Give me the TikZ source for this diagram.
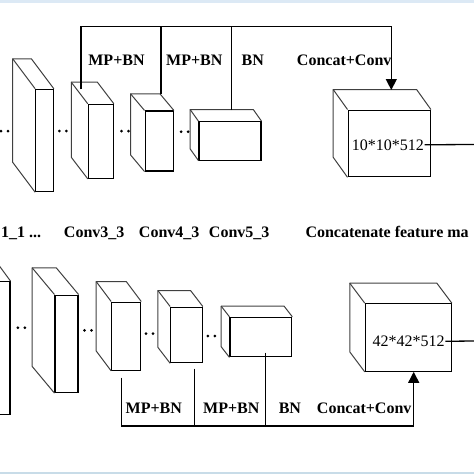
\documentclass[tikz,border=0pt]{standalone}
\usepackage{fontspec}
\setmainfont{Liberation Serif}
\usetikzlibrary{calc,arrows.meta}

\tikzset{
  face/.style={draw,line width=1.1pt,inner sep=0pt,fill=white},
  back/.style={line width=1pt,draw=black!75,line join=round},
  link/.style={line width=1.3pt},
  lab/.style={font=\fontsize{16}{19}\selectfont\bfseries,inner sep=0pt,anchor=base},
  size/.style={font=\fontsize{16}{19}\selectfont,inner sep=0.5pt,anchor=base},
  tip/.style={-{Triangle[width=11pt,length=11pt]}}
}
\definecolor{bandtop}{RGB}{220,233,245}
\definecolor{bandbot}{RGB}{200,220,232}

% back edges of a feature map: node, dx, dy
\newcommand{\fmapback}[3]{%
  \draw[back] (#1.south west) -- ++(#2,#3) -- ($(#1.north west)+(#2,#3)$)
    -- ($(#1.north east)+(#2,#3)$) -- (#1.north east);
  \draw[back] (#1.north west) -- ++(#2,#3);}

\begin{document}
\begin{tikzpicture}[x=1pt,y=-1pt]
  \useasboundingbox (0,0) rectangle (474,474);
  \clip (0,0) rectangle (474,474);
  \fill[bandtop] (0,0) rectangle (474,2.5);
  \fill[bandbot] (0,471.5) rectangle (474,474);

  % upper branch
  \node[face,minimum width=17.6,minimum height=102.4] (a1) at (44.5,140.5) {};
  \node[face,minimum width=25,minimum height=74] (a2) at (100.8,141.3) {};
  \node[face,minimum width=28.3,minimum height=60] (a3) at (159.2,141) {};
  \node[face,minimum width=62,minimum height=38.3] (a4) at (230,140.9) {};
  \node[face,minimum width=82.3,minimum height=66.7] (acat) at (389.2,143.4) {};
  \fmapback{a1}{-22.5}{-30}
  \fmapback{a2}{-16.5}{-21.6}
  \fmapback{a3}{-14}{-16.7}
  \fmapback{a4}{-8.3}{-11.7}
  \fmapback{acat}{-14.3}{-20}
  \node[size] (acatl) at (387.9,150) {10*10*512};

  \coordinate (a2t) at (81,89.3);
  \coordinate (a3t) at (161,94.3);
  \coordinate (a4t) at (231.7,110);
  \coordinate (abus) at (391.3,26.7);
  \coordinate (aout) at (474,144.5);
  \draw[link,tip] (a2t) |- (abus) -- (391.3,90);
  \draw[link] (a3t) -- (a3t |- abus);
  \draw[link] (a4t) -- (a4t |- abus);
  \draw[link] (acatl.east) -- (aout);

  \node[lab] (amp1) at (116.5,65) {MP+BN};
  \node[lab] (amp2) at (194.3,65) {MP+BN};
  \node[lab] (abn) at (252.8,65) {BN};
  \node[lab] (acc) at (344.2,65) {Concat+Conv};

  \node[lab,anchor=base west] (n11) at (1,237.5) {1\_1 ...};
  \node[lab] (n33) at (94.2,237.5) {Conv3\_3};
  \node[lab] (n43) at (169.2,237.5) {Conv4\_3};
  \node[lab] (n53) at (239.2,237.5) {Conv5\_3};
  \node[lab,anchor=base west] (ncat) at (305.3,237.5) {Concatenate feature ma};

  % lower branch
  \node[face,minimum width=20,minimum height=132.6] (b1) at (0,348) {};
  \node[face,minimum width=23,minimum height=97.5] (b2) at (66.5,343.8) {};
  \node[face,minimum width=29,minimum height=68.3] (b3) at (126.2,336.2) {};
  \node[face,minimum width=31.6,minimum height=55.7] (b4) at (186.5,334.9) {};
  \node[face,minimum width=61.8,minimum height=39.5] (b5) at (260.9,337.1) {};
  \node[face,minimum width=86,minimum height=67.6] (bcat) at (408.3,337.5) {};
  \fmapback{b1}{-22}{-30}
  \fmapback{b2}{-22.3}{-26.7}
  \fmapback{b3}{-15}{-20}
  \fmapback{b4}{-12.3}{-16}
  \fmapback{b5}{-8.3}{-10.7}
  \fmapback{bcat}{-15}{-20}
  \node[size] (bcatl) at (408.7,346.5) {42*42*512};

  \coordinate (b3t) at (121.7,377.7);
  \coordinate (b4t) at (194.5,368.5);
  \coordinate (b5t) at (265.5,352.5);
  \coordinate (bbus) at (413.7,426);
  \coordinate (bout) at (474,341);
  \draw[link,tip] (b3t) |- (bbus) -- (bbus |- bcat.south);
  \draw[link] (b4t) -- (b4t |- bbus);
  \draw[link] (b5t) -- (b5t |- bbus);
  \draw[link] (bcatl.east) -- (bout);

  \node[lab] (bmp1) at (153.8,413.7) {MP+BN};
  \node[lab] (bmp2) at (231.3,413.7) {MP+BN};
  \node[lab] (bbn) at (289.9,413.7) {BN};
  \node[lab] (bcc) at (364.2,413.7) {Concat+Conv};

  % dots between the maps
  \foreach \x/\y in {4.5/131,62.8/131,125/131,184.7/131.7,
                     21.3/327.7,88/330.3,149.5/333.7,211.3/336}
    \fill (\x-3.5,\y) circle (1.5pt) (\x+3.5,\y) circle (1.5pt);
\end{tikzpicture}
\end{document}
